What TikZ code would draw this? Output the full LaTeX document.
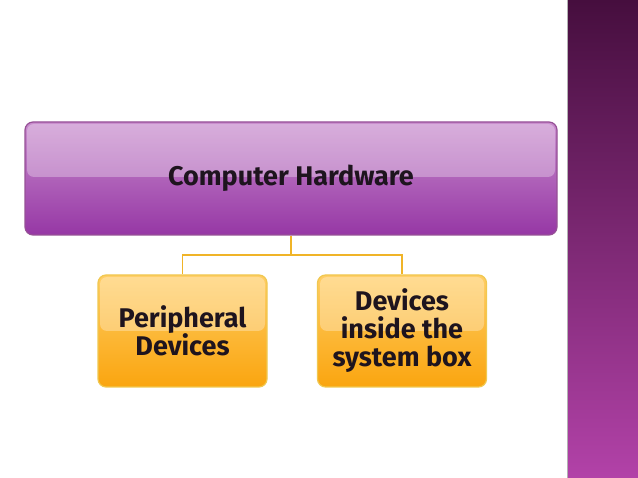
\documentclass[tikz,border=0pt]{standalone}
\usepackage{fontspec}
\setmainfont{Fira Sans}
\begin{document}
\begin{tikzpicture}[x=1pt,y=-1pt,
  lbl/.style={font=\bfseries\fontsize{27}{28}\selectfont, align=center, text={rgb,255:red,30;green,20;blue,30}},
  conn/.style={draw={rgb,255:red,240;green,180;blue,40}, line width=1.8pt}]
\useasboundingbox (0,0) rectangle (638,478);
\fill[white] (0,0) rectangle (638,478);
\shade[top color={rgb,255:red,70;green,14;blue,62}, bottom color={rgb,255:red,178;green,66;blue,168}] (568,0) rectangle (638,478);
\draw[gray!60, line width=1pt] (567,0) -- (567,478);
% top box
\node[draw={rgb,255:red,150;green,80;blue,150}, line width=1.2pt, rounded corners=8pt, minimum width=532pt, minimum height=113pt,
  top color={rgb,255:red,200;green,140;blue,205}, bottom color={rgb,255:red,150;green,55;blue,165}] (top) at (291,178.5) {};
\fill[white, opacity=0.3, rounded corners=7pt] (27,124) rectangle (555,177);
\node[lbl] at (top) {Computer Hardware};
% bottom boxes
\tikzset{obox/.style={draw={rgb,255:red,240;green,200;blue,80}, line width=1.2pt, rounded corners=8pt, minimum width=169pt, minimum height=112pt,
  top color={rgb,255:red,255;green,205;blue,100}, bottom color={rgb,255:red,250;green,165;blue,15}}}
\node[obox] (p) at (182.5,331) {};
\node[obox] (d) at (402,331) {};
\fill[white, opacity=0.3, rounded corners=7pt] (100,277) rectangle (265,331);
\fill[white, opacity=0.3, rounded corners=7pt] (320,277) rectangle (484,331);
\node[lbl] at (p) {Peripheral\\Devices};
\node[lbl] at (d) {Devices\\inside the\\system box};
\coordinate (m) at (291,255);
\draw[conn] (top.south) -- (m);
\draw[conn] (p.north) |- (m) -| (d.north);
\end{tikzpicture}
\end{document}
